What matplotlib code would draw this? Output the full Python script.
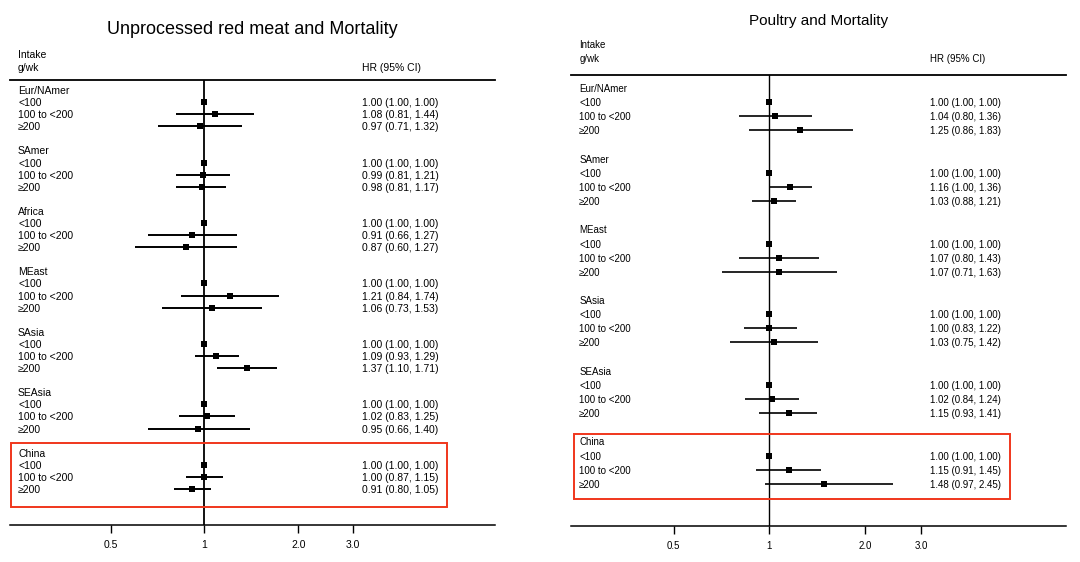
import matplotlib
matplotlib.use("Agg")
import matplotlib.pyplot as plt
from matplotlib.patches import Rectangle
from matplotlib.ticker import NullLocator

plt.rcParams['font.family'] = ['Liberation Sans', 'DejaVu Sans']

levels = ["<100", "100 to <200", "\u2265200"]

# Left panel: Unprocessed red meat
red_title = "Unprocessed red meat and Mortality"
red_groups = ["Eur/NAmer", "SAmer", "Africa", "MEast", "SAsia", "SEAsia", "China"]
red_hr = [[1.00, 1.08, 0.97], [1.00, 0.99, 0.98], [1.00, 0.91, 0.87], [1.00, 1.21, 1.06],
          [1.00, 1.09, 1.37], [1.00, 1.02, 0.95], [1.00, 1.00, 0.91]]
red_lo = [[1.00, 0.81, 0.71], [1.00, 0.81, 0.81], [1.00, 0.66, 0.60], [1.00, 0.84, 0.73],
          [1.00, 0.93, 1.10], [1.00, 0.83, 0.66], [1.00, 0.87, 0.80]]
red_hi = [[1.00, 1.44, 1.32], [1.00, 1.21, 1.17], [1.00, 1.27, 1.27], [1.00, 1.74, 1.53],
          [1.00, 1.29, 1.71], [1.00, 1.25, 1.40], [1.00, 1.15, 1.05]]

# Right panel: Poultry
pou_title = "Poultry and Mortality"
pou_groups = ["Eur/NAmer", "SAmer", "MEast", "SAsia", "SEAsia", "China"]
pou_hr = [[1.00, 1.04, 1.25], [1.00, 1.16, 1.03], [1.00, 1.07, 1.07],
          [1.00, 1.00, 1.03], [1.00, 1.02, 1.15], [1.00, 1.15, 1.48]]
pou_lo = [[1.00, 0.80, 0.86], [1.00, 1.00, 0.88], [1.00, 0.80, 0.71],
          [1.00, 0.83, 0.75], [1.00, 0.84, 0.93], [1.00, 0.91, 0.97]]
pou_hi = [[1.00, 1.36, 1.83], [1.00, 1.36, 1.21], [1.00, 1.43, 1.63],
          [1.00, 1.22, 1.42], [1.00, 1.24, 1.41], [1.00, 1.45, 2.45]]

xticks = [0.5, 1, 2, 3]
xticklabels = ["0.5", "1", "2.0", "3.0"]

W, H = 1080, 562
fig = plt.figure(figsize=(W / 100, H / 100), dpi=100)


def panel(px_left, px_right, px_top, px_bottom, groups, hr, lo, hi, title,
          title_y, title_fs, fs, ytop, ybot, head1_y, head2_y, msize, lw, vlw,
          box_rows_px):
    ax = fig.add_axes([px_left / W, 1 - px_bottom / H, (px_right - px_left) / W,
                       (px_bottom - px_top) / H])
    ax.set_xscale('log')
    ax.set_xlim(0.2378, 8.55)
    ax.set_ylim(ybot, ytop)
    ax.xaxis.set_minor_locator(NullLocator())
    ax.set_xticks(xticks)
    ax.set_xticklabels(xticklabels, fontsize=fs)
    ax.tick_params(axis='x', direction='out', length=6, width=1.0, pad=5)
    ax.set_yticks([])
    for s in ['left', 'right']:
        ax.spines[s].set_visible(False)
    ax.spines['top'].set_linewidth(1.3)
    ax.spines['bottom'].set_linewidth(1.1)
    ax.axvline(1, color='black', lw=vlw, zorder=1)

    tr = ax.get_yaxis_transform()
    row = 0
    for g, name in enumerate(groups):
        ax.text(0.0165, row, name, transform=tr, fontsize=fs,
                va='center_baseline', ha='left')
        for k, lev in enumerate(levels):
            r = row + 1 + k
            ax.text(0.0165, r, lev, transform=tr, fontsize=fs,
                    va='center_baseline', ha='left')
            ax.plot([lo[g][k], hi[g][k]], [r, r], color='black', lw=lw, zorder=2,
                    solid_capstyle='butt')
            ax.plot([hr[g][k]], [r], marker='s', color='black', ms=msize, zorder=3,
                    markeredgewidth=0)
            ax.text(0.725, r, f"{hr[g][k]:.2f} ({lo[g][k]:.2f}, {hi[g][k]:.2f})",
                    transform=tr, fontsize=fs, va='center_baseline', ha='left')
        row += 5

    # header texts (figure pixel coords)
    x_lab = (px_left + 0.0165 * (px_right - px_left)) / W
    x_hr = (px_left + 0.725 * (px_right - px_left)) / W
    fig.text(x_lab, 1 - head1_y / H, "Intake", fontsize=fs, va='center_baseline',
             ha='left')
    fig.text(x_lab, 1 - head2_y / H, "g/wk", fontsize=fs, va='center_baseline',
             ha='left')
    fig.text(x_hr, 1 - head2_y / H, "HR (95% CI)", fontsize=fs, va='center_baseline',
             ha='left')
    fig.text((px_left + px_right) / 2 / W, 1 - title_y / H, title, fontsize=title_fs,
             va='center_baseline', ha='center')

    # highlight box around China
    bx0, bx1, by0, by1 = box_rows_px
    rect = Rectangle((bx0 / W, 1 - by1 / H), (bx1 - bx0) / W, (by1 - by0) / H,
                     transform=fig.transFigure, fill=False, edgecolor='#f0361c',
                     lw=1.4, zorder=5)
    fig.patches.append(rect)
    return ax


panel(10, 495, 80, 525, red_groups, red_hr, red_lo, red_hi, red_title,
      title_y=27.5, title_fs=13, fs=7.5, ytop=-0.83, ybot=35.98,
      head1_y=54.5, head2_y=67, msize=4.5, lw=1.4, vlw=1.3,
      box_rows_px=(11, 447, 443, 507))

panel(571, 1066, 75, 526, pou_groups, pou_hr, pou_lo, pou_hi, pou_title,
      title_y=20, title_fs=11, fs=7, ytop=-0.92, ybot=30.98,
      head1_y=44.5, head2_y=58, msize=4.0, lw=1.2, vlw=1.0,
      box_rows_px=(574, 1010, 434, 499))

fig.savefig("out.png", dpi=100, facecolor='white')
